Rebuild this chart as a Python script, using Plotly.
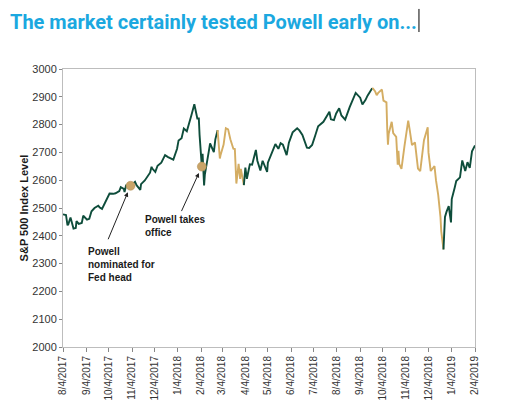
####################################################################################################################
# plot.py
#
# S&P 500 around Powell's nomination / start as Fed chair
# green = normal stretch, gold = rough patches

import pandas as pd
import plotly.graph_objects as go


####################################################################################################################
# DATA

dates = [
    '2017-08-04', '2017-08-08', '2017-08-10', '2017-08-11', '2017-08-14', '2017-08-17', '2017-08-18', '2017-08-21',
    '2017-08-22', '2017-08-25', '2017-08-29', '2017-08-31', '2017-09-05', '2017-09-08', '2017-09-11', '2017-09-15',
    '2017-09-20', '2017-09-22', '2017-09-25', '2017-09-29', '2017-10-05', '2017-10-10', '2017-10-13', '2017-10-18',
    '2017-10-20', '2017-10-24', '2017-10-25', '2017-10-27', '2017-11-02', '2017-11-08', '2017-11-10', '2017-11-15',
    '2017-11-16', '2017-11-21', '2017-11-28', '2017-11-30', '2017-12-01', '2017-12-05', '2017-12-08', '2017-12-13',
    '2017-12-15', '2017-12-18', '2017-12-22', '2017-12-29', '2018-01-03', '2018-01-05', '2018-01-09', '2018-01-12',
    '2018-01-16', '2018-01-18', '2018-01-22', '2018-01-26', '2018-01-30', '2018-02-01', '2018-02-02', '2018-02-05',
    '2018-02-06', '2018-02-08', '2018-02-09', '2018-02-14', '2018-02-16', '2018-02-21', '2018-02-23', '2018-02-26',
    '2018-03-01', '2018-03-02', '2018-03-06', '2018-03-09', '2018-03-12', '2018-03-15', '2018-03-19', '2018-03-21',
    '2018-03-22', '2018-03-23', '2018-03-26', '2018-03-28', '2018-03-29', '2018-04-02', '2018-04-04', '2018-04-06',
    '2018-04-10', '2018-04-13', '2018-04-18', '2018-04-20', '2018-04-24', '2018-04-27', '2018-05-03', '2018-05-04',
    '2018-05-09', '2018-05-14', '2018-05-18', '2018-05-21', '2018-05-24', '2018-05-29', '2018-06-01', '2018-06-06',
    '2018-06-12', '2018-06-15', '2018-06-19', '2018-06-25', '2018-06-28', '2018-07-02', '2018-07-06', '2018-07-10',
    '2018-07-17', '2018-07-25', '2018-07-27', '2018-07-31', '2018-08-03', '2018-08-07', '2018-08-10', '2018-08-15',
    '2018-08-21', '2018-08-29', '2018-09-04', '2018-09-07', '2018-09-11', '2018-09-14', '2018-09-20', '2018-09-21',
    '2018-09-24', '2018-09-26', '2018-09-28', '2018-10-03', '2018-10-05', '2018-10-09', '2018-10-10', '2018-10-11',
    '2018-10-12', '2018-10-16', '2018-10-18', '2018-10-22', '2018-10-24', '2018-10-25', '2018-10-26', '2018-10-29',
    '2018-11-02', '2018-11-07', '2018-11-09', '2018-11-12', '2018-11-16', '2018-11-20', '2018-11-23', '2018-11-28',
    '2018-12-03', '2018-12-04', '2018-12-07', '2018-12-12', '2018-12-14', '2018-12-17', '2018-12-20', '2018-12-21',
    '2018-12-24', '2018-12-26', '2018-12-28', '2018-12-31', '2019-01-03', '2019-01-04', '2019-01-08', '2019-01-10',
    '2019-01-15', '2019-01-18', '2019-01-22', '2019-01-25', '2019-01-28', '2019-01-31', '2019-02-04',
]

spx = [
    2477, 2475, 2438, 2441, 2466, 2430, 2426, 2428,
    2453, 2443, 2446, 2472, 2458, 2461, 2488, 2500,
    2508, 2502, 2497, 2519, 2552, 2551, 2553, 2561,
    2575, 2569, 2557, 2581, 2580, 2594, 2582, 2565,
    2586, 2599, 2627, 2648, 2642, 2630, 2652, 2663,
    2676, 2690, 2683, 2674, 2713, 2743, 2751, 2786,
    2776, 2798, 2833, 2873, 2822, 2822, 2762, 2649,
    2695, 2581, 2620, 2699, 2732, 2701, 2747, 2780,
    2678, 2691, 2728, 2787, 2783, 2747, 2713, 2712,
    2644, 2588, 2659, 2605, 2641, 2582, 2645, 2605,
    2657, 2656, 2709, 2670, 2635, 2670, 2630, 2663,
    2698, 2730, 2713, 2733, 2728, 2690, 2735, 2772,
    2787, 2779, 2763, 2717, 2716, 2727, 2760, 2794,
    2810, 2846, 2819, 2816, 2840, 2859, 2833, 2818,
    2863, 2914, 2897, 2872, 2888, 2905, 2931, 2930,
    2919, 2906, 2914, 2926, 2886, 2880, 2786, 2728,
    2767, 2810, 2769, 2756, 2656, 2706, 2659, 2641,
    2723, 2814, 2781, 2726, 2736, 2642, 2633, 2744,
    2790, 2700, 2633, 2651, 2600, 2546, 2467, 2417,
    2351, 2468, 2486, 2507, 2448, 2532, 2574, 2597,
    2610, 2671, 2633, 2665, 2644, 2704, 2725,
]

# stretches drawn in gold
gold_periods = [('2018-02-26', '2018-04-02'), ('2018-09-20', '2018-12-24')]

# the two marked events
event_dates = ['2017-11-02', '2018-02-05']
event_values = [2580, 2649]
event_labels = ['Powell<br>nominated for<br>Fed head', 'Powell takes<br>office']

# x tick positions / labels
tick_dates = ['2017-08-04', '2017-09-04', '2017-10-04', '2017-11-04', '2017-12-04', '2018-01-04', '2018-02-04',
              '2018-03-04', '2018-04-04', '2018-05-04', '2018-06-04', '2018-07-04', '2018-08-04', '2018-09-04',
              '2018-10-04', '2018-11-04', '2018-12-04', '2019-01-04', '2019-02-04']
tick_labels = ['8/4/2017', '9/4/2017', '10/4/2017', '11/4/2017', '12/4/2017', '1/4/2018', '2/4/2018',
               '3/4/2018', '4/4/2018', '5/4/2018', '6/4/2018', '7/4/2018', '8/4/2018', '9/4/2018',
               '10/4/2018', '11/4/2018', '12/4/2018', '1/4/2019', '2/4/2019']

GREEN = '#0e4d3b'
GOLD = '#d4ad63'
FONT = 'Liberation Sans, Arial, sans-serif'


####################################################################################################################
# SPLIT INTO GREEN / GOLD SEGMENTS

df = pd.DataFrame({'date': pd.to_datetime(dates), 'spx': spx})
df['gold'] = False
for start, end in gold_periods:
    df.loc[(df.date >= start) & (df.date <= end), 'gold'] = True

# edge k joins point k and k+1; it's gold only if both ends are in a gold period
edge_gold = [bool(df.gold[k] and df.gold[k + 1]) for k in range(len(df) - 1)]
segments = []  # (is_gold, first point, last point)
s = 0
for k in range(1, len(edge_gold)):
    if edge_gold[k] != edge_gold[k - 1]:
        segments.append((edge_gold[k - 1], s, k))
        s = k
segments.append((edge_gold[-1], s, len(df) - 1))

fig = go.Figure()
for is_gold, a, b in segments:
    seg = df.iloc[a:b + 1]
    fig.add_trace(go.Scatter(x=seg.date, y=seg.spx, mode='lines',
                             line=dict(color=GOLD if is_gold else GREEN, width=1.9),
                             showlegend=False, hoverinfo='x+y'))

fig.add_trace(go.Scatter(x=event_dates, y=event_values, mode='markers',
                         marker=dict(color='#c9a468', size=9, line=dict(color='#b08d50', width=0.5)),
                         showlegend=False))

# arrows (no text) pointing at the dots
for d, v, ax, ay in [(event_dates[0], event_values[0], -23, 55), (event_dates[1], event_values[1], -21, 46)]:
    fig.add_annotation(x=d, y=v, text='', showarrow=True, arrowhead=2, arrowsize=0.9, arrowwidth=1,
                       arrowcolor='#222222', ax=ax, ay=ay, standoff=7)

# the labels themselves
ann_font = dict(family=FONT, size=10, color='#1a1a1a')
fig.add_annotation(xref='paper', yref='paper', x=0.056, y=0.372, xanchor='left', yanchor='top', align='left',
                   text='<b>' + event_labels[0] + '</b>', showarrow=False, font=ann_font)
fig.add_annotation(xref='paper', yref='paper', x=0.194, y=0.484, xanchor='left', yanchor='top', align='left',
                   text='<b>' + event_labels[1] + '</b>', showarrow=False, font=ann_font)

# title + the stray text cursor from the screenshot
fig.add_annotation(xref='paper', yref='paper', x=-0.1335, y=1.169, xanchor='left', yanchor='middle',
                   text='<b>The market certainly tested Powell early on...</b>', showarrow=False,
                   font=dict(family='Roboto, sans-serif', size=20, color='#1ba8e0'))
fig.add_shape(type='line', xref='paper', yref='paper', x0=0.864, x1=0.864, y0=1.133, y1=1.216,
              line=dict(color='#000000', width=1))

# page body has an 8px margin, so the figure is 8px smaller and margins shifted by 8
fig.update_layout(
    width=499, height=404,
    margin=dict(l=55, r=32, t=61, b=65),
    paper_bgcolor='white', plot_bgcolor='white',
    font=dict(family=FONT, size=10, color='#333333'),
    xaxis=dict(type='date', range=['2017-08-04', '2019-02-04'], automargin=False,
               tickvals=tick_dates, ticktext=tick_labels, tickangle=-90,
               showgrid=False, zeroline=False, showline=True, mirror=True, linecolor='#bdbdbd', linewidth=1,
               ticks='outside', ticklen=4, tickcolor='#888888', tickfont=dict(size=10, color='#333333')),
    yaxis=dict(range=[2000, 3000], dtick=100, showgrid=False, zeroline=False, automargin=False,
               showline=True, mirror=True, linecolor='#bdbdbd', linewidth=1,
               ticks='outside', ticklen=3, tickcolor='#888888', tickfont=dict(size=11, color='#333333'),
               title=dict(text='<b>S&P 500 Index Level</b>', font=dict(size=11, color='#1a1a1a'), standoff=1)),
)

fig.write_html('out.html')
